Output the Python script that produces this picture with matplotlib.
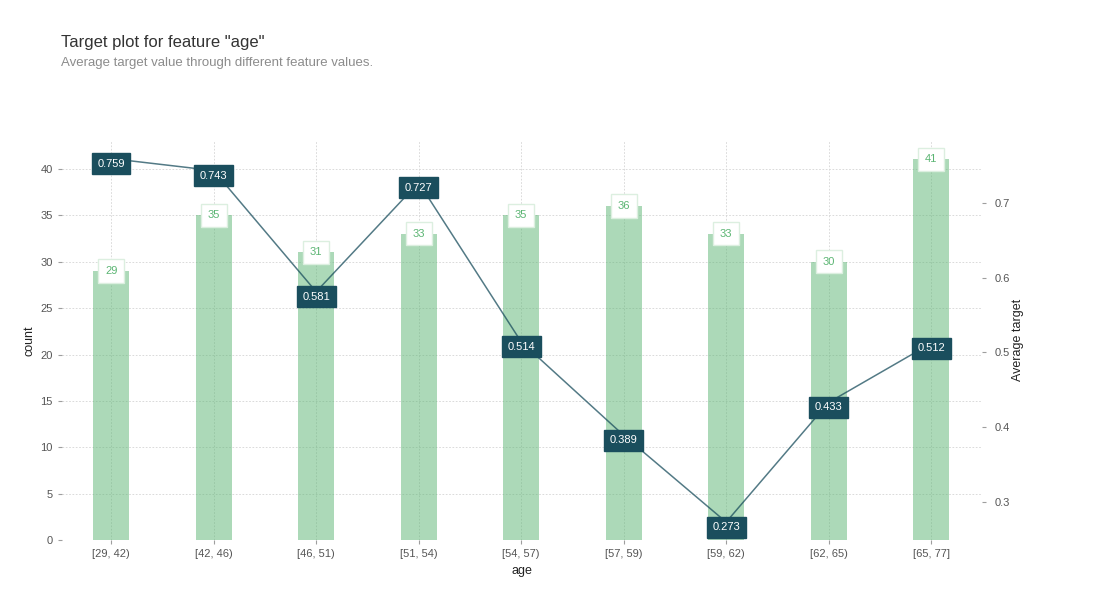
import matplotlib
matplotlib.use("Agg")
import matplotlib.pyplot as plt
import numpy as np

plt.rcParams['font.family'] = ['Liberation Sans', 'DejaVu Sans']

categories = ['[29, 42)', '[42, 46)', '[46, 51)', '[51, 54)', '[54, 57)',
              '[57, 59)', '[59, 62)', '[62, 65)', '[65, 77]']
counts = [29, 35, 31, 33, 35, 36, 33, 30, 41]
avg_target = [0.759, 0.743, 0.581, 0.727, 0.514, 0.389, 0.273, 0.433, 0.512]

fig = plt.figure(figsize=(11.17, 5.95), dpi=100)
fig.text(0.0546, 0.929, 'Target plot for feature "age"', fontsize=12, color='#333333', ha='left', va='center')
fig.text(0.0546, 0.894, 'Average target value through different feature values.', fontsize=9.5, color='#8c8c8c', ha='left', va='center')

ax = fig.add_axes([0.0555, 0.092, 0.824, 0.672])
x = np.arange(len(categories))
ax.bar(x, counts, width=0.35, color='#5BB573', alpha=0.5, zorder=2)
ax.set_xlim(-0.48, 8.5)
ax.set_ylim(0, max(counts) * 1.05)
ax.set_xticks(x)
ax.set_xticklabels(categories)
ax.set_yticks([0, 5, 10, 15, 20, 25, 30, 35, 40])
ax.grid(True, linestyle=(0, (2, 2)), linewidth=0.6, color='#d4d4d4', zorder=0)
ax.set_axisbelow(True)
for s in ax.spines.values():
    s.set_visible(False)
ax.tick_params(axis='both', labelsize=8, colors='#555555', length=3, width=0.8)
ax.tick_params(axis='both', color='#9e9e9e')
ax.set_xlabel('age', fontsize=9, color='#222222', labelpad=4)
ax.set_ylabel('count', fontsize=9, color='#222222', labelpad=4)

for xi, c in zip(x, counts):
    ax.text(xi, c, str(c), ha='center', va='center', fontsize=8, color='#5BB573', zorder=5,
            bbox=dict(facecolor='white', edgecolor='#dcefe0', boxstyle='square,pad=0.6', linewidth=1))

ax2 = ax.twinx()
ax2.plot(x, avg_target, color='#1A4E5D', linewidth=1.1, alpha=0.75, zorder=3)
rng = max(avg_target) - min(avg_target)
ax2.set_ylim(min(avg_target) - 0.05 * rng, max(avg_target) + 0.05 * rng)
ax2.set_yticks([0.3, 0.4, 0.5, 0.6, 0.7])
for s in ax2.spines.values():
    s.set_visible(False)
ax2.tick_params(axis='y', labelsize=8, colors='#555555', length=3, width=0.8, pad=6)
ax2.tick_params(axis='y', color='#9e9e9e')
ax2.set_ylabel('Average target', fontsize=9, color='#222222', labelpad=1)
ax2.grid(False)
for xi, v in zip(x, avg_target):
    ax2.text(xi, v, '%.3f' % v, ha='center', va='top', fontsize=8, color='white', zorder=6,
             bbox=dict(facecolor='#1A4E5D', edgecolor='#1A4E5D', boxstyle='square,pad=0.5'))

fig.savefig('out.png', dpi=100)
